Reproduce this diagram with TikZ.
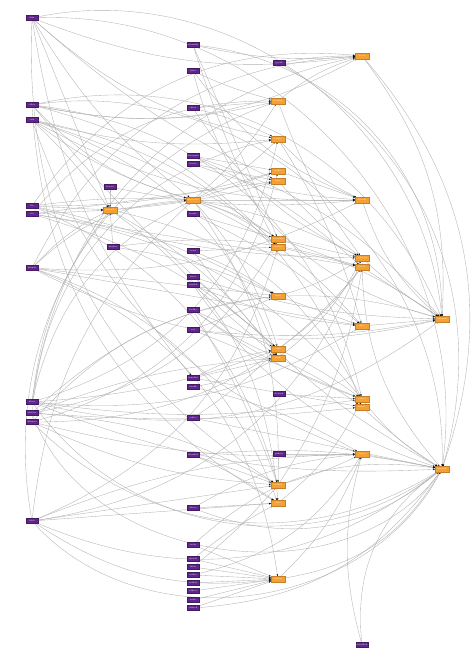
\documentclass[tikz,border=0pt]{standalone}
\usetikzlibrary{arrows.meta,backgrounds}
\definecolor{pnode}{RGB}{96,38,140}
\definecolor{onode}{RGB}{245,160,50}
\tikzset{
  pn/.style={fill=pnode,draw=pnode!70!black,line width=0.2pt,minimum width=12pt,minimum height=5pt,inner sep=0pt,text=white,font=\fontsize{2}{2}\selectfont},
  on/.style={fill=onode,draw=onode!80!black,line width=0.2pt,minimum width=14pt,minimum height=5.5pt,inner sep=0pt,text=white,font=\fontsize{2}{2}\selectfont},
  e/.style={draw=gray!62,line width=0.35pt,-{Stealth[length=2pt,width=1.6pt,black]}}
}
\begin{document}
\begin{tikzpicture}[x=1pt,y=1pt]
\useasboundingbox (0,0) rectangle (474,-653);
% left column
\node[pn] (L1) at (32,-18) {ddw};
\node[pn] (L2) at (32,-105) {vdbio};
\node[pn] (L3) at (32,-120) {vsdi};
\node[pn] (L4) at (32,-206) {flio};
\node[pn] (L5) at (32,-214) {vbr};
\node[pn] (L6) at (32,-268) {ksbndo};
\node[pn] (L7) at (32,-402) {dbcio};
\node[pn] (L8) at (32,-413) {dbdlios};
\node[pn] (L9) at (32,-422) {dsbmaio};
\node[pn] (L10) at (32,-521) {fdvb};
% second column
\node[pn] (P1) at (110,-187) {fsoswd};
\node[on] (O0) at (110,-210) {bscvwd};
\node[pn] (P2) at (113,-247) {bbjdiw};
% middle purple
\node[pn] (M1) at (193,-45) {nvbmdds};
\node[pn] (M2) at (193,-71) {jsnio};
\node[pn] (M3) at (193,-108) {cdbcs};
\node[pn] (M4) at (193,-156) {bkaiopsno};
\node[pn] (M5) at (193,-164) {bvsdo};
\node[on] (OM) at (193,-200) {dbvswdbd};
\node[pn] (M6) at (193,-214) {bvsdfv};
\node[pn] (M7) at (193,-251) {vswd};
\node[pn] (M8) at (193,-277) {bnsd};
\node[pn] (M9) at (193,-285) {vnsdbd};
\node[pn] (M10) at (193,-310) {bvddo};
\node[pn] (M11) at (193,-330) {vsd};
\node[pn] (M12) at (193,-378) {bvnsdbo};
\node[pn] (M13) at (193,-387) {bvsdd};
\node[pn] (M14) at (193,-418) {jvdbo};
\node[pn] (M15) at (193,-455) {fbvsdbd};
\node[pn] (M16) at (193,-508) {dbvso};
\node[pn] (M17) at (193,-545) {vsdvs};
\node[pn] (M18) at (193,-559) {qbvsdi};
\node[pn] (M19) at (193,-567) {fdbio};
\node[pn] (M20) at (193,-575) {svdbo};
\node[pn] (M21) at (193,-583) {vsdbvd};
\node[pn] (M22) at (193,-591) {jdbvsi};
\node[pn] (M23) at (193,-600) {vsdio};
\node[pn] (M24) at (193,-608) {vbdsod};
% purple at col3
\node[pn] (Q1) at (279,-63) {gvjdb};
\node[pn] (Q2) at (279,-394) {fbdvsdi};
\node[pn] (Q3) at (279,-454) {gdbsdi};
% orange col3
\node[on] (A1) at (278,-101) {bsvdbd};
\node[on] (A2) at (278,-139) {bvsdio};
\node[on] (A3) at (278,-171) {vsdbv};
\node[on] (A4) at (278,-181) {bdvs};
\node[on] (A5) at (278,-239) {dbvsdbd};
\node[on] (A6) at (278,-247) {vsdbvs};
\node[on] (A7) at (278,-296) {bvsd};
\node[on] (A8) at (278,-349) {vsdb};
\node[on] (A9) at (278,-358) {bvsdi};
\node[on] (A10) at (278,-485) {vsdbvd};
\node[on] (A11) at (278,-503) {dbvs};
\node[on] (A12) at (278,-579) {vsdbvsi};
% col4
\node[on] (B1) at (362,-56) {fbvsd};
\node[on] (B2) at (362,-200) {dbvsdb};
\node[on] (B3) at (362,-258) {vsdbvsd};
\node[on] (B4) at (362,-267) {bvsdv};
\node[on] (B5) at (362,-326) {dbvs};
\node[on] (B6) at (362,-399) {vsdbd};
\node[on] (B7) at (362,-407) {bvsdo};
\node[on] (B8) at (362,-454) {dvsb};
% col5
\node[on] (C1) at (442,-319) {vdbvsdi};
\node[on] (C2) at (442,-469) {bvsdbd};
\node[pn] (Z) at (362,-645) {fbvsdbvd};
\begin{pgfonlayer}{background}
\foreach \s/\t/\b in {
 M17/A12/0,M18/A12/0,M19/A12/0,M20/A12/0,M21/A12/0,M22/A12/0,M23/A12/0,M24/A12/0,
 M18/A11/5,M19/A10/-5,
 L2/OM/-15,L3/OM/-10,L4/OM/5,L6/OM/20,L7/OM/25,L10/OM/20,L1/OM/-10,
 L1/O0/0,L3/O0/5,L4/O0/0,L5/O0/0,P1/O0/0,P2/O0/0,L6/O0/10,L7/O0/15,
 M1/A5/0,M1/A6/-5,M2/A1/-5,M3/A1/0,M3/A2/5,M4/A3/0,M5/A4/0,M6/A5/0,M7/A6/0,M7/A7/5,
 M8/A8/0,M9/A9/0,M10/A8/0,M10/A9/-5,M10/A10/5,M11/A7/0,M12/A9/0,M14/A8/-5,
 M15/A10/0,M15/A11/5,M16/A11/0,Q1/B1/5,Q2/B6/0,Q3/B8/0,
 A1/B1/10,A2/B2/-10,A5/B3/0,A6/B4/0,A7/B5/0,A8/B6/5,A9/B7/5,A10/B8/-5,A3/B2/0,A4/B3/-5,
 B1/C1/20,B2/C1/-15,B3/C1/-5,B4/C1/0,B5/C1/0,B6/C2/-10,B7/C2/-5,B8/C2/0,B3/C2/-20,
 L1/B1/-14,L2/B1/-20,L3/B2/-15,L2/A1/-12,L3/A2/-10,L3/A5/8,L4/B3/-8,L5/B4/0,L6/B5/0,
 L6/C1/-20,L7/C1/-25,L7/B6/-8,L8/B7/-5,L9/B8/-8,L9/A10/-10,L10/C2/-30,L10/A11/0,L10/B8/10,
 L7/A8/-8,L8/A9/8,L10/A12/-20,L1/C1/48,L1/C2/50,L2/C2/50,L2/C1/40,L7/C2/-12,L6/A7/0,L4/A3/-8,L5/A4/0,
 Z/C2/30,Z/B8/15,L10/C2/-55,L9/C2/-38,L8/C1/30,
 M1/B1/-8,M2/B2/-15,M3/B3/-15,M4/B4/8,M6/B5/8,M8/C1/-8,M10/B6/-8,M12/B7/0,M13/B8/8,M14/C2/0,
 M15/C2/8,M16/B8/12,M17/C2/25,M4/C1/15,M5/B2/-8,M9/B5/-8,M11/B6/0,M13/A9/-8,M12/A8/8,
 OM/A1/-8,OM/A2/-8,OM/A3/0,OM/A5/8,OM/A6/12,OM/A8/12,OM/A10/18,OM/B2/0,OM/B3/8,OM/B5/12,
 O0/OM/0,O0/A4/-5,O0/A9/12,O0/B6/25,O0/A11/25,
 A1/B3/-8,A2/B5/8,A8/B4/-8,A9/B3/-12,A10/B4/-12,A11/B6/-12,A12/B8/-12,A12/C2/-25,A7/B3/-8,A5/C1/8,
 L2/A6/15,L3/A9/25,L4/A10/25,L5/B6/20,L6/A12/30,L7/A2/-30,L8/A5/-25,L9/A3/-30,L10/A6/-25,L10/B3/-30,
 L2/B6/35,L3/B7/30,L1/A2/-15,L1/A4/-8,L6/B2/-15,L7/B5/-18,L9/B4/-25,L8/A10/12,L10/A10/0,
 P1/B2/-8,P2/A7/8,P2/B4/12,L4/A7/8,L5/A8/12,L6/A11/25,M2/C1/-30,M7/C2/-12,M9/C2/-18,M11/C1/-8,
 L10/A1/40,L9/A2/38,L7/B1/35,L6/B1/30,L1/A10/-30,L2/A11/-28,L3/B8/-25,
 M1/C1/42,Q1/C2/38,B1/C2/30,L7/C2/-45,M16/C2/-30,M24/C2/-25,M20/B8/-22,L8/C2/-62,
 L1/M12/-15,L2/A8/-5,L5/A1/25,L9/A7/20,L4/B1/30
}{\draw[e] (\s) to[bend left=\b] (\t);}
\end{pgfonlayer}
\end{tikzpicture}
\end{document}
